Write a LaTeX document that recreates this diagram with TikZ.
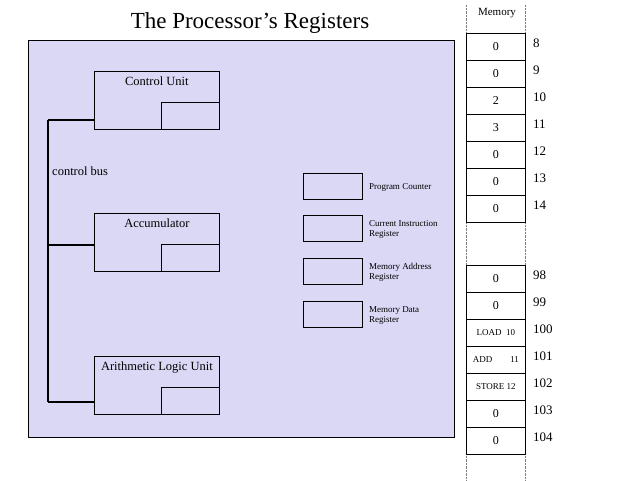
\documentclass[tikz,border=0pt]{standalone}
\usepackage{fontspec}
\setmainfont{Liberation Serif}
\begin{document}
\begin{tikzpicture}[x=1pt,y=-1pt,
  box/.style={draw,line width=0.8pt},
  bus/.style={line width=1.8pt},
  lab/.style={font=\fontsize{9}{10}\selectfont,anchor=west,align=left},
  cell/.style={draw,line width=0.8pt,fill=white,minimum width=59pt,minimum height=27pt,inner sep=0pt,font=\fontsize{12}{13}\selectfont},
  addr/.style={font=\fontsize{13}{14}\selectfont,anchor=north west}]
\useasboundingbox (0,0) rectangle (640,480);
\fill[white] (0,0) rectangle (640,480);
\node (title) at (250,23) {\fontsize{23}{25}\selectfont The Processor's Registers};
\node[draw,line width=0.8pt,fill={rgb,255:red,218;green,216;blue,245},minimum width=426pt,minimum height=397pt,inner sep=0pt] (cpu) at (241,238.5) {};
% units
\foreach \n/\t/\y in {cu/Control Unit/71,acc/Accumulator/213,alu/Arithmetic Logic Unit/356}{
  \node[box,minimum width=125pt,minimum height=58pt,inner sep=0pt,anchor=north west] (\n) at (94,\y) {};
  \node[box,minimum width=58pt,minimum height=27pt,inner sep=0pt,anchor=south east] (\n in) at (\n.south east) {};
  \node[font=\fontsize{12.5}{13}\selectfont,anchor=north,inner sep=0pt] (\n t) at ([yshift=-6pt]\n.north) {\t};
}
\coordinate (b1) at (48,120);
\coordinate (b2) at (48,245);
\coordinate (b3) at (48,402);
\draw[bus] (b1) -- (b3);
\draw[bus] (b1) -- (b1 -| cu.west);
\draw[bus] (b2) -- (b2 -| acc.west);
\draw[bus] (b3) -- (b3 -| alu.west);
\node[font=\fontsize{12.5}{13}\selectfont,anchor=west,inner sep=0pt] (cb) at (52,171) {control bus};
% registers
\foreach \n/\t/\y in {pc/Program Counter/173,cir/Current Instruction\\Register/215,mar/Memory Address\\Register/258,mdr/Memory Data\\Register/301}{
  \node[box,minimum width=59pt,minimum height=26pt,inner sep=0pt,anchor=north west] (\n) at (303,\y) {};
  \node[lab,inner sep=0pt] (\n t) at ([xshift=6pt,yshift=-1pt]\n.east) {\t};
}
% memory
\coordinate (m1) at (466,5); \coordinate (m2) at (466,480);
\coordinate (m3) at (525,5); \coordinate (m4) at (525,480);
\draw[densely dotted,gray] (m1) -- (m2);
\draw[densely dotted,gray] (m3) -- (m4);
\node[font=\fontsize{11}{12}\selectfont] (memt) at (497,13) {Memory};
\foreach \v/\a/\y in {0/8/33,0/9/60,2/10/87,3/11/114,0/12/141,0/13/168,0/14/195,0/98/265,0/99/292,{\fontsize{9}{10}\selectfont LOAD\enspace 10}/100/319,{\fontsize{9}{10}\selectfont ADD\qquad 11}/101/346,{\fontsize{9}{10}\selectfont STORE 12}/102/373,0/103/400,0/104/427}{
  \node[cell,anchor=north west] (c\a) at (466,\y) {\v};
  \node[addr,inner sep=0pt] (a\a) at ([xshift=7pt,yshift=-6pt]c\a.north east) {\a};
}
\end{tikzpicture}
\end{document}
